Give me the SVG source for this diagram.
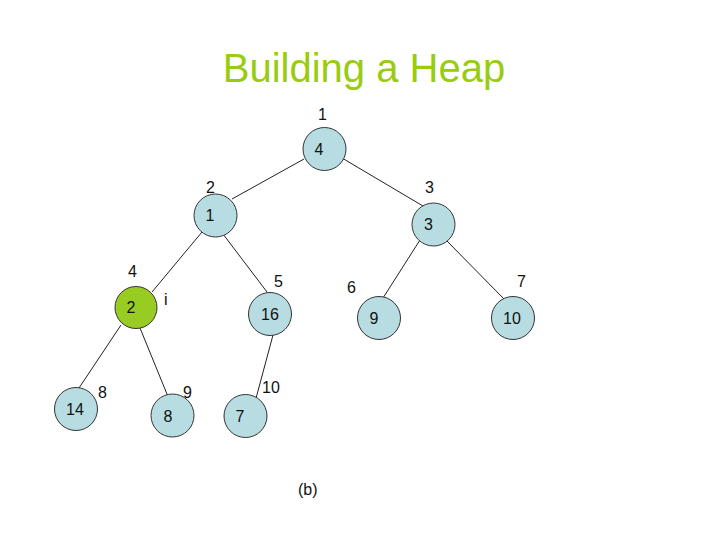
<svg xmlns="http://www.w3.org/2000/svg" width="728" height="546" viewBox="0 0 728 546">
<style>
.node circle{fill:#b7dde2;stroke:#333;stroke-width:1}
.node.hl circle{fill:#99cc22}
.v{font-family:"Liberation Sans",Arial,sans-serif;font-size:16px;fill:#111;text-anchor:middle}
.idx{font-family:"Liberation Sans",Arial,sans-serif;font-size:16px;fill:#111}
.edges line{stroke:#222;stroke-width:1}
</style>
<rect width="728" height="546" fill="#fff"/>
<text x="364" y="82" text-anchor="middle" font-family="'Liberation Sans',Arial,sans-serif" font-size="40" fill="#99cc11">Building a Heap</text>
<g id="edges" class="edges">
<line x1="304" y1="159" x2="232" y2="199"/>
<line x1="342" y1="158" x2="423" y2="206"/>
<line x1="202" y1="232" x2="152" y2="292"/>
<line x1="223" y1="234" x2="267" y2="292"/>
<line x1="420" y1="240" x2="383" y2="298"/>
<line x1="446" y1="240" x2="504" y2="299"/>
<line x1="121" y1="325" x2="79" y2="388"/>
<line x1="140" y1="328" x2="169" y2="399"/>
<line x1="273" y1="335" x2="255" y2="402"/>
</g>
<g id="node-1" class="node"><circle cx="324.5" cy="149" r="21.5"/><text class="v" x="319" y="155">4</text></g>
<g id="node-2" class="node"><circle cx="215.5" cy="215.5" r="21.5"/><text class="v" x="210" y="221">1</text></g>
<g id="node-3" class="node"><circle cx="433.5" cy="224.5" r="21.5"/><text class="v" x="428.5" y="230">3</text></g>
<g id="node-4" class="node hl"><circle cx="136" cy="307.5" r="21"/><text class="v" x="131" y="313">2</text></g>
<g id="node-5" class="node"><circle cx="270" cy="314" r="21.5"/><text class="v" x="270" y="320">16</text></g>
<g id="node-6" class="node"><circle cx="379" cy="318" r="21.5"/><text class="v" x="374" y="324">9</text></g>
<g id="node-7" class="node"><circle cx="513" cy="318" r="21.5"/><text class="v" x="512" y="324">10</text></g>
<g id="node-8" class="node"><circle cx="76" cy="409" r="21.5"/><text class="v" x="75" y="415">14</text></g>
<g id="node-9" class="node"><circle cx="172.5" cy="415.5" r="21.5"/><text class="v" x="168" y="422">8</text></g>
<g id="node-10" class="node"><circle cx="245.5" cy="416" r="21.5"/><text class="v" x="240" y="422">7</text></g>
<g id="labels">
<text class="idx" x="318" y="120">1</text>
<text class="idx" x="206" y="193">2</text>
<text class="idx" x="425" y="193">3</text>
<text class="idx" x="128" y="277">4</text>
<text class="idx" x="164" y="305">i</text>
<text class="idx" x="274" y="287">5</text>
<text class="idx" x="347" y="293">6</text>
<text class="idx" x="517" y="287">7</text>
<text class="idx" x="98" y="398">8</text>
<text class="idx" x="183" y="398">9</text>
<text class="idx" x="262" y="393">10</text>
<text class="idx" x="298" y="495">(b)</text>
</g>
</svg>
